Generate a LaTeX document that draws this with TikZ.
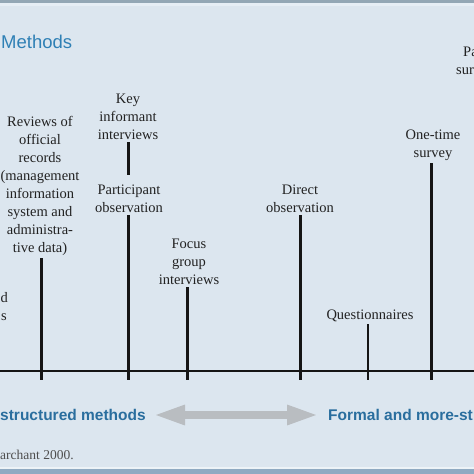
\documentclass[tikz,border=0pt]{standalone}
\usepackage{fontspec}
\setmainfont{Liberation Serif}
\setsansfont{Liberation Sans}
\usetikzlibrary{arrows.meta}
\definecolor{bgc}{HTML}{DCE6EF}
\definecolor{topband}{HTML}{93A7B5}
\definecolor{topband2}{HTML}{E6EEF5}
\definecolor{botband}{HTML}{8FAAC2}
\definecolor{titleblue}{HTML}{2F80B5}
\definecolor{boldblue}{HTML}{2A6E9E}
\definecolor{labtext}{HTML}{222222}
\definecolor{linec}{HTML}{151515}
\definecolor{arrowgray}{HTML}{B9BDC1}
\tikzset{
  lab/.style={font=\fontsize{14.5}{18}\selectfont, text=labtext, align=center, inner sep=2pt, anchor=south},
  cut/.style={font=\fontsize{14.5}{18}\selectfont, text=labtext, inner sep=0pt},
  stem/.style={draw=linec, line width=3pt},
  thinstem/.style={draw=linec, line width=2.2pt},
  axis/.style={draw=linec, line width=2.5pt},
  bluebold/.style={font=\sffamily\bfseries\fontsize{15.5}{18}\selectfont, text=boldblue, inner sep=0pt, anchor=base west},
}
\begin{document}
\begin{tikzpicture}[x=1pt,y=-1pt]
\useasboundingbox (0,0) rectangle (474,474);
\clip (0,0) rectangle (474,474);
\fill[bgc] (0,0) rectangle (474,474);
\fill[topband2] (0,2.5) rectangle (474,6);
\fill[topband] (0,0) rectangle (474,2.5);
\fill[white!50!bgc] (0,466.5) rectangle (474,468.5);
\fill[botband] (0,468.5) rectangle (474,474);

% title
\node[font=\sffamily\fontsize{18.5}{20}\selectfont, text=titleblue, inner sep=0pt, anchor=base west] (title) at (1,48) {Methods};

% axis
\coordinate (axL) at (0,371);
\coordinate (axR) at (474,371);
\draw[axis] (axL) -- (axR);

% stems: top coordinates and tick ends
\coordinate (r1) at (41,258);   \coordinate (r2) at (41,380);
\coordinate (k1) at (128,142);  \coordinate (k2) at (128,175);
\coordinate (p1) at (128,215);  \coordinate (p2) at (128,380);
\coordinate (f1) at (187,287);  \coordinate (f2) at (187,380);
\coordinate (d1) at (300,215);  \coordinate (d2) at (300,380);
\coordinate (q1) at (368,324);  \coordinate (q2) at (368,380);
\coordinate (o1) at (431,163);  \coordinate (o2) at (431,380);

\draw[stem] (r1) -- (r2);
\draw[stem] (k1) -- (k2);
\draw[stem] (p1) -- (p2);
\draw[stem] (f1) -- (f2);
\draw[stem] (d1) -- (d2);
\draw[thinstem] (q1) -- (q2);
\draw[stem] (o1) -- (o2);

% labels
\node[lab] (rev) at ([xshift=-1pt]r1) {Reviews of\\official\\records\\(management\\information\\system and\\administra-\\tive data)};
\node[lab] (key) at (k1) {Key\\informant\\interviews};
\node[lab] (par) at ([xshift=1pt]p1) {Participant\\observation};
\node[lab] (foc) at ([xshift=2pt]f1) {Focus\\group\\interviews};
\node[lab] (dir) at (d1) {Direct\\observation};
\node[lab] (que) at ([xshift=2pt]q1) {Questionnaires};
\node[lab] (one) at ([xshift=2pt]o1) {One-time\\survey};

% cut-off texts at edges
\node[cut, anchor=base east] (cd) at (8,302) {d};
\node[cut, anchor=base east] (cs) at (7,320) {s};
\node[cut, anchor=base west] (pa) at (463,56) {Pa};
\node[cut, anchor=base west] (su) at (456,74) {sur};

% bottom
\node[bluebold] (lefttxt) at (0,420) {structured methods};
\node[bluebold] (righttxt) at (328,420) {Formal and more-st};
\coordinate (arL) at (153,415);
\coordinate (arR) at (319,415);
\draw[arrowgray, line width=8pt, {Triangle[length=32pt,width=18pt]}-{Triangle[length=32pt,width=18pt]}] (arL) -- (arR);

\node[font=\fontsize{13.5}{15}\selectfont, text=labtext!80, inner sep=0pt, anchor=base west] (src) at (0,459) {archant 2000.};
\end{tikzpicture}
\end{document}
